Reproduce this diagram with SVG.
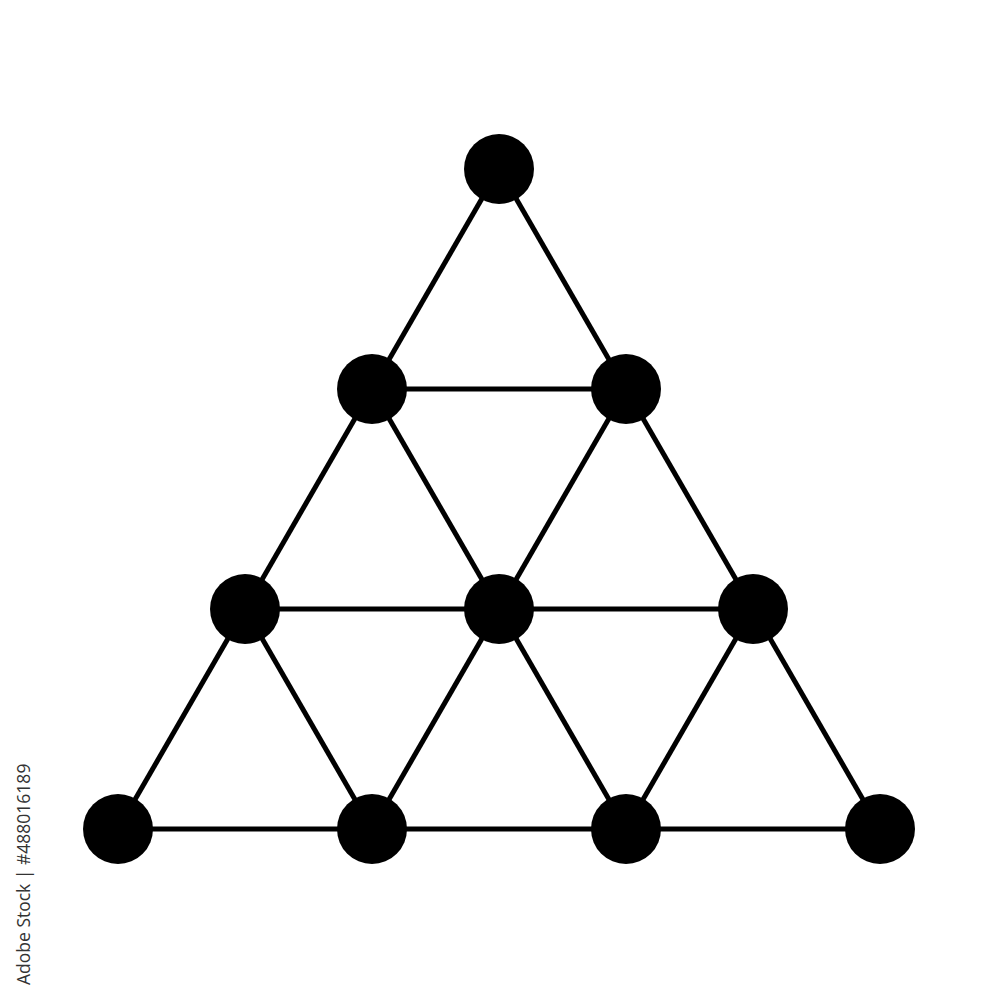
<svg xmlns="http://www.w3.org/2000/svg" width="1000" height="1000" viewBox="0 0 1000 1000">
<style>
.e{stroke:#000;stroke-width:5;fill:none}
.n{fill:#000}
.wm{font-family:"Open Sans","Noto Sans",sans-serif;font-size:17.5px;fill:#333}
</style>
<rect width="1000" height="1000" fill="#fff"/>
<g id="connectors" class="e">
<line x1="499" y1="169" x2="118" y2="829"/>
<line x1="499" y1="169" x2="880" y2="829"/>
<line x1="118" y1="829" x2="880" y2="829"/>
<line x1="372" y1="389" x2="626" y2="389"/>
<line x1="245" y1="609" x2="753" y2="609"/>
<line x1="372" y1="389" x2="626" y2="829"/>
<line x1="626" y1="389" x2="372" y2="829"/>
<line x1="245" y1="609" x2="372" y2="829"/>
<line x1="753" y1="609" x2="626" y2="829"/>
</g>
<g id="n1"><circle class="n" cx="499" cy="169" r="35"/></g>
<g id="n2"><circle class="n" cx="372" cy="389" r="35"/></g>
<g id="n3"><circle class="n" cx="626" cy="389" r="35"/></g>
<g id="n4"><circle class="n" cx="245" cy="609" r="35"/></g>
<g id="n5"><circle class="n" cx="499" cy="609" r="35"/></g>
<g id="n6"><circle class="n" cx="753" cy="609" r="35"/></g>
<g id="n7"><circle class="n" cx="118" cy="829" r="35"/></g>
<g id="n8"><circle class="n" cx="372" cy="829" r="35"/></g>
<g id="n9"><circle class="n" cx="626" cy="829" r="35"/></g>
<g id="n10"><circle class="n" cx="880" cy="829" r="35"/></g>
<text class="wm" transform="translate(30,985) rotate(-90)">Adobe Stock | #488016189</text>
</svg>
